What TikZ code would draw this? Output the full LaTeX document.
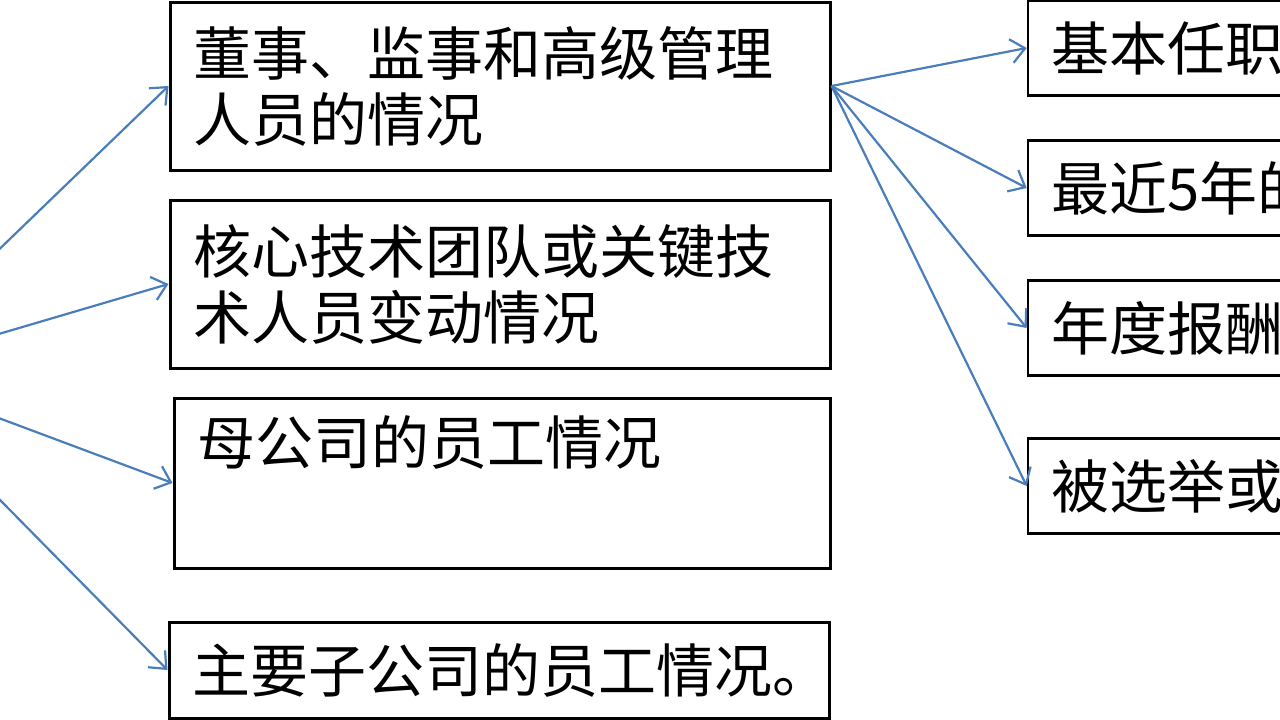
\documentclass[tikz,border=0pt]{standalone}
\usepackage{fontspec}
\usepackage{tikz}
\usetikzlibrary{arrows.meta,positioning}
\newfontfamily\cjk{Noto Sans CJK SC}
\definecolor{linkblue}{HTML}{4A7EBB}

\begin{document}
\begin{tikzpicture}[x=1pt,y=-1pt,
  box/.style={draw, line width=3pt, minimum width=660pt, minimum height=168pt,
    text width=614pt, align=left, inner xsep=23pt, inner ysep=0pt,
    font=\cjk\fontsize{58}{66}\selectfont},
  sidebox/.style={box, line width=2.6pt, minimum width=400pt, minimum height=95pt, text width=354pt},
  link/.style={draw=linkblue, line width=2.2pt, -{Straight Barb[length=14pt,width=24pt]}}]
  \useasboundingbox (0,0) rectangle (1280,720);
  \clip (0,0) rectangle (1280,720);

  \coordinate (root) at (-127,371);

  \node[box] (mgmt) at (500,86) {董事、监事和高级管理\\人员的情况};
  \node[box] (tech) at (500,284) {核心技术团队或关键技\\术人员变动情况};
  \node[box, minimum width=656pt, text width=610pt, minimum height=170pt] (parent) at (502,483) {母公司的员工情况\\[20pt]~};
  \node[box, minimum height=96pt] (sub) at (499,670) {主要子公司的员工情况。};

  \node[sidebox] (duty) at (1228,48) {基本任职};
  \node[sidebox] (recent) at (1228,188) {最近5年的};
  \node[sidebox] (pay) at (1228,328) {年度报酬};
  \node[sidebox] (elect) at (1228,486) {被选举或};

  \draw[link] (root) -- (mgmt.west);
  \draw[link] (root) -- (tech.west);
  \draw[link] (root) -- (parent.west);
  \draw[link] (root) -- (sub.west);

  \draw[link] (mgmt.east) -- (duty.west);
  \draw[link] (mgmt.east) -- (recent.west);
  \draw[link] (mgmt.east) -- (pay.west);
  \draw[link] (mgmt.east) -- (elect.west);
\end{tikzpicture}
\end{document}
